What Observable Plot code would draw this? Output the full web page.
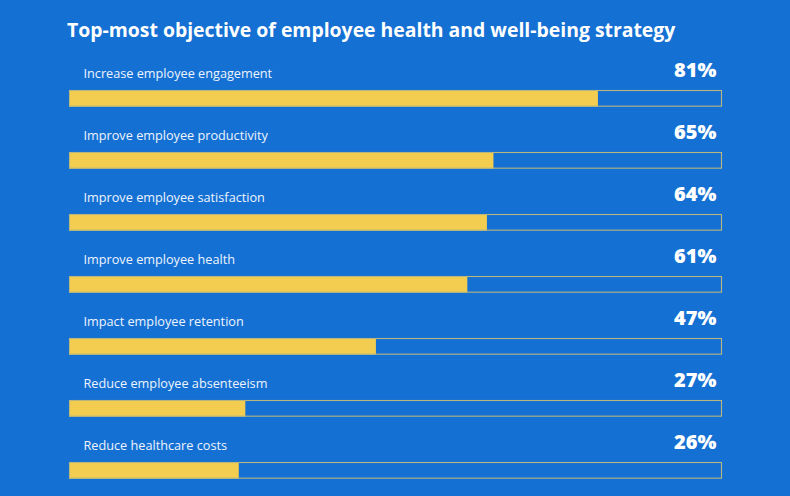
<!DOCTYPE html>
<html>
<head>
<meta charset="utf-8">
<script src="https://cdn.jsdelivr.net/npm/d3@7"></script>
<script src="https://cdn.jsdelivr.net/npm/@observablehq/plot@0.6"></script>
<style>
  html, body { margin: 0; padding: 0; background: #1570d3; width: 790px; height: 496px; overflow: hidden; }
  #title {
    box-sizing: border-box; height: 50px; padding: 20px 0 0 67px;
    font-family: "Open Sans", sans-serif; font-weight: 700; font-size: 19.4px; line-height: 1;
    color: #ffffff; white-space: nowrap;
  }
  #chart svg { display: block; }
</style>
</head>
<body>
<div id="title">Top-most objective of employee health and well-being strategy</div>
<div id="chart"></div>
<script>
// Share of respondents naming each objective as their top-most one
const categories = [
  "Increase employee engagement",
  "Improve employee productivity",
  "Improve employee satisfaction",
  "Improve employee health",
  "Impact employee retention",
  "Reduce employee absenteeism",
  "Reduce healthcare costs"
];
const values = [81, 65, 64, 61, 47, 27, 26];

const rows = categories.map((category, i) => ({category, value: values[i]}));

const trackTop = 39;      // gap above each track holds its labels
const trackBottom = 6.33; // gap below each track

const chart = Plot.plot({
  width: 790,
  height: 446,
  marginLeft: 69,
  marginRight: 68,
  marginTop: 0,
  marginBottom: 9.67,
  x: {domain: [0, 100], axis: null},
  y: {domain: categories, axis: null, padding: 0},
  style: {background: "transparent", fontFamily: "'Open Sans', sans-serif"},
  marks: [
    // filled share
    Plot.barX(rows, {
      x: "value", y: "category", fill: "#f3cd50",
      insetTop: trackTop, insetBottom: trackBottom
    }),
    // full-width outlined track
    Plot.barX(rows, {
      x1: 0, x2: 100, y: "category", fill: "none",
      stroke: "#b6b67e", strokeWidth: 1.1,
      insetTop: trackTop + 0.5, insetBottom: trackBottom + 0.5, insetLeft: 0.5, insetRight: 0.5
    }),
    // objective names
    Plot.text(rows, {
      x: 0, y: "category", text: "category",
      textAnchor: "start", lineAnchor: "bottom",
      dx: 14, dy: -5,
      fill: "#eef4fc", fontSize: 12.7
    }),
    // percentage values
    Plot.text(rows, {
      x: 100, y: "category", text: d => `${d.value}%`,
      textAnchor: "end", lineAnchor: "bottom",
      dx: -6, dy: -5.3,
      fill: "#ffffff", fontSize: 20, fontWeight: 800
    })
  ]
});

document.getElementById("chart").appendChild(chart);
</script>
</body>
</html>
